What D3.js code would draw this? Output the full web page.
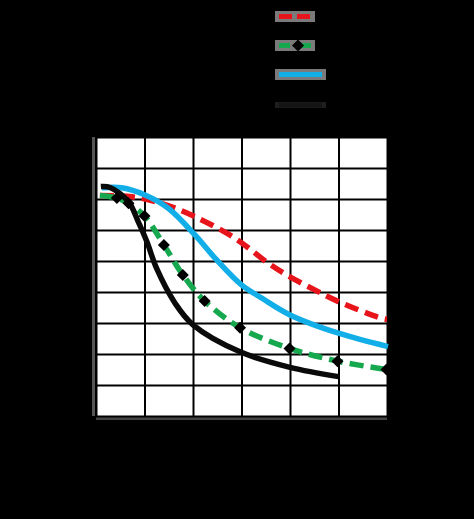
<!DOCTYPE html>
<html>
<head>
<meta charset="utf-8">
<script src="https://cdn.jsdelivr.net/npm/d3@7"></script>
<style>
  html, body { margin: 0; padding: 0; background: #000; }
  svg { display: block; }
</style>
</head>
<body>
<div id="chart"></div>
<script>
// values, in grid units (x 0..6, y 0..9)
var xTicks = [0, 1, 2, 3, 4, 5, 6];
var yTicks = [0, 1, 2, 3, 4, 5, 6, 7, 8, 9];

var redX = [0.08, 0.74, 1.35, 2.04, 2.87, 3.55, 4.0, 4.52, 5.0, 5.89, 6.0];
var redY = [7.11, 7.07, 6.86, 6.43, 5.73, 4.93, 4.49, 4.06, 3.69, 3.15, 3.12];

var greenX = [0.08, 0.43, 0.67, 1.0, 1.40, 1.79, 2.24, 2.97, 3.99, 4.98, 5.99];
var greenY = [7.11, 7.03, 6.86, 6.45, 5.52, 4.55, 3.71, 2.85, 2.18, 1.77, 1.50];
var markerIdx = [1, 2, 3, 4, 5, 6, 7, 8, 9, 10];

var blueX = [0.12, 0.53, 1.01, 1.49, 2.04, 2.45, 3.0, 3.42, 4.0, 5.0, 6.02];
var blueY = [7.36, 7.36, 7.13, 6.70, 5.84, 5.10, 4.23, 3.80, 3.26, 2.67, 2.24];

var blackX = [0.1, 0.29, 0.67, 0.87, 1.05, 1.25, 1.63, 2.0, 2.97, 4.0, 5.0];
var blackY = [7.40, 7.37, 6.91, 6.27, 5.62, 4.76, 3.64, 2.94, 2.07, 1.57, 1.27];

var width = 474, height = 519;
var plot = { left: 96, top: 137, right: 387, bottom: 416 };

var svg = d3.select("#chart").append("svg")
  .attr("width", width)
  .attr("height", height);

svg.append("rect").attr("width", width).attr("height", height).attr("fill", "#000");

var xScale = d3.scaleLinear().domain([0, 6]).range([plot.left, plot.right]);
var yScale = d3.scaleLinear().domain([0, 9]).range([plot.bottom, plot.top]);

// plot area
svg.append("rect")
  .attr("x", xScale(0)).attr("y", yScale(9))
  .attr("width", xScale(6) - xScale(0))
  .attr("height", yScale(0) - yScale(9))
  .attr("fill", "#fff");

// grey tick strips on left and bottom
svg.append("rect")
  .attr("x", xScale(0) - 4).attr("y", yScale(9))
  .attr("width", 3).attr("height", yScale(0) - yScale(9))
  .attr("fill", "#555");
svg.append("rect")
  .attr("x", xScale(0)).attr("y", yScale(0) + 1)
  .attr("width", xScale(6) - xScale(0)).attr("height", 3)
  .attr("fill", "#444");

// grid from the axes
var gx = svg.append("g")
  .attr("transform", "translate(0," + yScale(0) + ")")
  .call(d3.axisBottom(xScale).tickValues(xTicks).tickSize(-(yScale(0) - yScale(9))).tickFormat(""));
var gy = svg.append("g")
  .attr("transform", "translate(" + xScale(0) + ",0)")
  .call(d3.axisLeft(yScale).tickValues(yTicks).tickSize(-(xScale(6) - xScale(0))).tickFormat(""));
[gx, gy].forEach(function(g){
  g.select(".domain").remove();
  g.selectAll("line").attr("stroke", "#000").attr("stroke-width", 2);
});

function pts(xs, ys){
  return xs.map(function(x, i){ return [x, ys[i]]; });
}

var line = d3.line()
  .x(function(d){ return xScale(d[0]); })
  .y(function(d){ return yScale(d[1]); })
  .curve(d3.curveCatmullRom.alpha(0.5));

var series = [
  { data: pts(redX, redY), color: "#e8141b", dash: "14,7" },
  { data: pts(blueX, blueY), color: "#12aee8", dash: null },
  { data: pts(greenX, greenY), color: "#16a84f", dash: "14,7" },
  { data: pts(blackX, blackY), color: "#0a0a0a", dash: null }
];

series.forEach(function(s){
  svg.append("path")
    .datum(s.data)
    .attr("fill", "none")
    .attr("stroke", s.color)
    .attr("stroke-width", 5.5)
    .attr("stroke-dasharray", s.dash)
    .attr("d", line);
});

// diamond markers on green series (rotated squares)
var diamond = d3.symbol().type(d3.symbolSquare).size(72);
svg.selectAll(".dot")
  .data(markerIdx.map(function(i){ return [greenX[i], greenY[i]]; }))
  .enter().append("path")
  .attr("class", "dot")
  .attr("transform", function(d){ return "translate(" + xScale(d[0]) + "," + yScale(d[1]) + ") rotate(45)"; })
  .attr("d", diamond)
  .attr("fill", "#000");

// legend swatches
var legend = [
  { x: 275, y: 11, w: 40, h: 11, bg: "#7a7a7a", color: "#e8141b", dash: "13,5", marker: false },
  { x: 275, y: 40, w: 40, h: 11, bg: "#7a7a7a", color: "#16a84f", dash: "11,10", marker: true },
  { x: 275, y: 69, w: 51, h: 11, bg: "#7a7a7a", color: "#12aee8", dash: null, marker: false },
  { x: 275, y: 102, w: 51, h: 6, bg: "#1e1e1e", color: "#141414", dash: null, marker: false }
];
var lg = svg.selectAll(".leg").data(legend).enter().append("g").attr("class", "leg");
lg.append("rect")
  .attr("x", function(d){ return d.x; }).attr("y", function(d){ return d.y; })
  .attr("width", function(d){ return d.w; }).attr("height", function(d){ return d.h; })
  .attr("fill", function(d){ return d.bg; });
lg.append("line")
  .attr("x1", function(d){ return d.x + 4; }).attr("x2", function(d){ return d.x + d.w - 4; })
  .attr("y1", function(d){ return d.y + d.h / 2; }).attr("y2", function(d){ return d.y + d.h / 2; })
  .attr("stroke", function(d){ return d.color; })
  .attr("stroke-width", 5)
  .attr("stroke-dasharray", function(d){ return d.dash; });
lg.filter(function(d){ return d.marker; }).append("path")
  .attr("transform", function(d){ return "translate(" + (d.x + d.w / 2 + 3) + "," + (d.y + d.h / 2) + ") rotate(45)"; })
  .attr("d", diamond)
  .attr("fill", "#000");
</script>
</body>
</html>
